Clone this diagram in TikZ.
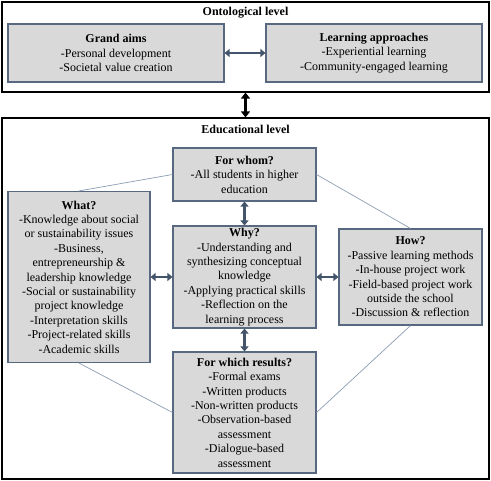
\documentclass[tikz,border=0pt]{standalone}
\usepackage{fontspec}
\setmainfont{Liberation Serif}
\usetikzlibrary{arrows.meta,positioning}
\definecolor{SlateBlue}{RGB}{68,84,106}
\definecolor{BoxEdge}{RGB}{88,104,128}
\definecolor{BoxGray}{RGB}{217,217,217}
\definecolor{LinkGray}{RGB}{140,156,178}
\tikzset{
  frame/.style={draw=black,line width=1.2pt,inner sep=0pt},
  box/.style={draw=BoxEdge,fill=BoxGray,line width=1.1pt,inner sep=0pt,
    align=center,font=\fontsize{12}{14.4}\selectfont},
  title/.style={font=\fontsize{12}{14.4}\selectfont\bfseries},
  biarrow/.style={{Triangle[length=5pt,width=8pt]}-{Triangle[length=5pt,width=8pt]},
    line width=2.6pt,SlateBlue},
  link/.style={LinkGray,line width=0.7pt}
}

\begin{document}
\begin{tikzpicture}[x=1pt,y=-1pt]
      \useasboundingbox (0,0) rectangle (491,481);
      % ontological level
      \node[frame,minimum width=487pt,minimum height=90pt] (onto) at (245.5,47) {};
      \node[title] (ontotitle) at (245.5,13) {Ontological level};
      \node[box,minimum width=216pt,minimum height=58pt] (aims) at (116,53)
        {\textbf{Grand aims}\\-Personal development\\-Societal value creation};
      \node[box,minimum width=216pt,minimum height=58pt] (approaches) at (374,53)
        {\textbf{Learning approaches}\\-Experiential learning\\-Community-engaged learning};
      \draw[biarrow] (aims) -- (approaches);

      % educational level
      \node[frame,minimum width=487pt,minimum height=361pt] (edu) at (245.5,298.5) {};
      \node[title] (edutitle) at (245.5,129) {Educational level};
      \draw[{Triangle[length=6pt,width=9pt]}-{Triangle[length=6pt,width=9pt]},
        line width=2.6pt,black] (onto) -- (edu);

      \node[box,minimum width=143pt,minimum height=53pt] (forwhom) at (244.5,174.5)
        {\textbf{For whom?}\\-All students in higher\\education};
      \node[box,minimum width=143pt,minimum height=102pt] (why) at (244.5,277)
        {\textbf{Why?}\\-Understanding and\\synthesizing conceptual\\knowledge\\
         -Applying practical skills\\-Reflection on the\\learning process};
      \node[box,minimum width=142pt,minimum height=171pt] (what) at (79,277)
        {\textbf{What?}\\-Knowledge about social\\or sustainability issues\\-Business,\\
         entrepreneurship \&\\leadership knowledge\\-Social or sustainability\\
         project knowledge\\-Interpretation skills\\-Project-related skills\\-Academic skills};
      \node[box,minimum width=143pt,minimum height=96pt] (how) at (410.5,277)
        {\textbf{How?}\\-Passive learning methods\\-In-house project work\\
         -Field-based project work\\outside the school\\-Discussion \& reflection};
      \node[box,minimum width=143pt,minimum height=121pt] (results) at (244.5,412.5)
        {\textbf{For which results?}\\-Formal exams\\-Written products\\-Non-written products\\
         -Observation-based\\assessment\\-Dialogue-based\\assessment};

      \draw[biarrow] (forwhom) -- (why);
      \draw[biarrow] (why) -- (results);
      \draw[biarrow] (what) -- (why);
      \draw[biarrow] (why) -- (how);

      \draw[link] (what.north) -- (forwhom.west);
      \draw[link] (forwhom.east) -- (how.north);
      \draw[link] (what.south) -- (results.west);
      \draw[link] (how.south) -- (results.east);
\end{tikzpicture}
\end{document}
